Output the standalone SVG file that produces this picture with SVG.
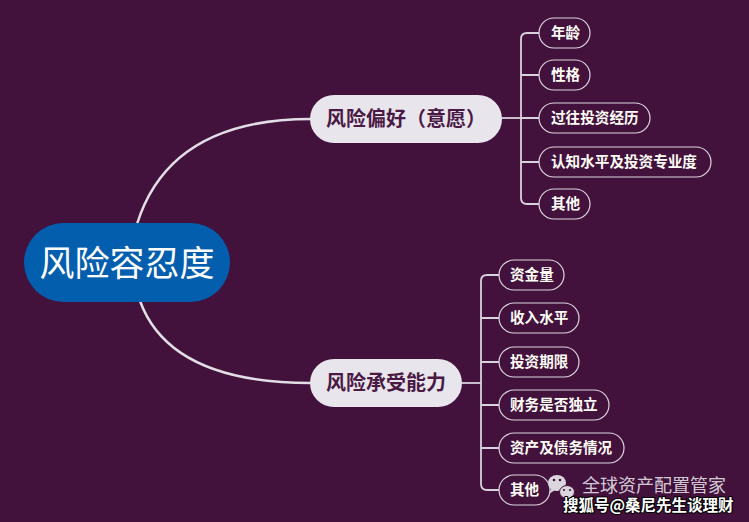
<svg xmlns="http://www.w3.org/2000/svg" width="749" height="522" viewBox="0 0 749 522">
<style>
.bg{fill:#42113c}
.line{fill:none;stroke:#e2dee6;stroke-width:2.5;stroke-linecap:round}
.thin{fill:none;stroke:#d8d2dc;stroke-width:1.8}
.leaf rect{fill:#42113c;stroke:#ddd6e0;stroke-width:1.2}
.leaf text{fill:#fffdf6;font-family:"Noto Sans CJK SC",sans-serif;font-size:14.6px;font-weight:bold}
.mid rect{fill:#e9e5ed}
.mid text{fill:#4a1a44;font-family:"Noto Sans CJK SC",sans-serif;font-size:20px;font-weight:bold}
.wm{font-family:"Noto Sans CJK SC",sans-serif}
</style>
<rect class="bg" x="0" y="0" width="749" height="522"/>
<g id="connectors">
<path class="line" d="M137,224 Q170,119 311,119"/>
<path class="line" d="M140,301 Q170,383 311,383"/>
<path class="thin" d="M502,118 H521"/>
<path class="thin" d="M539,33 H527 Q521,33 521,39 V198 Q521,204 527,204 H539"/>
<path class="thin" d="M521,75 H539 M521,118 H539 M521,162 H539"/>
<path class="thin" d="M462,383 H481"/>
<path class="thin" d="M499,275 H487 Q481,275 481,281 V484 Q481,490 487,490 H499"/>
<path class="thin" d="M481,318 H499 M481,362 H499 M481,405 H499 M481,448 H499"/>
</g>
<g id="root">
<rect x="24" y="223" width="206" height="79" rx="39.5" fill="#045eae"/>
<text x="127" y="276" text-anchor="middle" fill="#ffffff" font-family="Noto Sans CJK SC,sans-serif" font-size="35">风险容忍度</text>
</g>
<g id="pref" class="mid">
<rect x="310" y="95" width="192" height="48" rx="24"/>
<text x="326" y="126">风险偏好（意愿）</text>
</g>
<g id="cap" class="mid">
<rect x="310" y="359" width="152" height="48" rx="24"/>
<text x="386" y="390" text-anchor="middle">风险承受能力</text>
</g>
<g id="p1" class="leaf"><rect x="539" y="18" width="51" height="30" rx="15"/><text x="551" y="38">年龄</text></g>
<g id="p2" class="leaf"><rect x="539" y="60" width="51" height="30" rx="15"/><text x="551" y="80">性格</text></g>
<g id="p3" class="leaf"><rect x="539" y="103" width="111" height="30" rx="15"/><text x="551" y="123">过往投资经历</text></g>
<g id="p4" class="leaf"><rect x="539" y="147" width="172" height="30" rx="15"/><text x="551" y="167">认知水平及投资专业度</text></g>
<g id="p5" class="leaf"><rect x="539" y="189" width="51" height="30" rx="15"/><text x="551" y="209">其他</text></g>
<g id="c1" class="leaf"><rect x="499" y="260" width="65" height="30" rx="15"/><text x="510" y="280">资金量</text></g>
<g id="c2" class="leaf"><rect x="499" y="303" width="80" height="30" rx="15"/><text x="510" y="323">收入水平</text></g>
<g id="c3" class="leaf"><rect x="499" y="347" width="80" height="30" rx="15"/><text x="510" y="367">投资期限</text></g>
<g id="c4" class="leaf"><rect x="499" y="390" width="110" height="30" rx="15"/><text x="510" y="410">财务是否独立</text></g>
<g id="c5" class="leaf"><rect x="499" y="433" width="125" height="30" rx="15"/><text x="510" y="453">资产及债务情况</text></g>
<g id="c6" class="leaf"><rect x="499" y="475" width="51" height="30" rx="15"/><text x="510" y="495">其他</text></g>
<g id="watermark">
<ellipse cx="557" cy="483" rx="9" ry="8" fill="#dcd6de"/>
<path d="M551,489 L549,494 L555,490 Z" fill="#dcd6de"/>
<ellipse cx="567" cy="492" rx="7.5" ry="6.5" fill="#dcd6de" stroke="#42113c" stroke-width="1"/>
<circle cx="554" cy="480" r="1.3" fill="#42113c"/>
<circle cx="560" cy="480" r="1.3" fill="#42113c"/>
<circle cx="564" cy="490" r="1.1" fill="#42113c"/>
<circle cx="570" cy="490" r="1.1" fill="#42113c"/>
<text class="wm" x="582" y="492" font-size="18" fill="#e6e2e8" fill-opacity="0.9">全球资产配置管家</text>
<text class="wm" x="563" y="511" font-size="15.5" font-weight="bold" fill="#ffffff" stroke="#000000" stroke-width="2" stroke-linejoin="round" paint-order="stroke">搜狐号@桑尼先生谈理财</text>
</g>
</svg>
